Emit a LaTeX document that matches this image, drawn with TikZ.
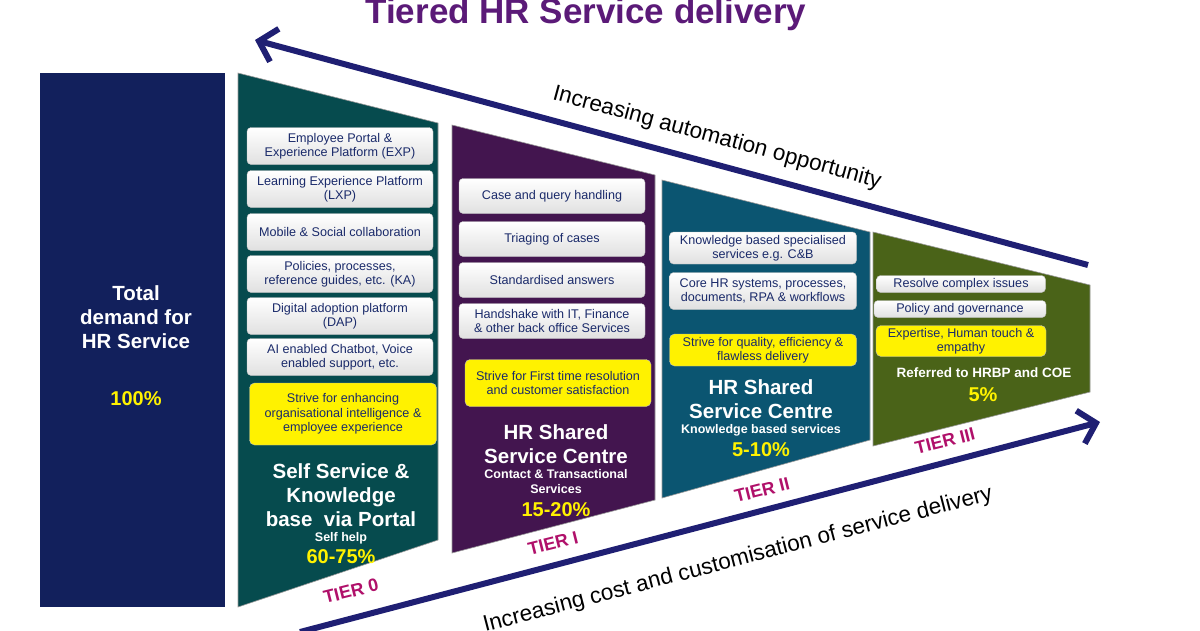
\documentclass[tikz,border=0pt]{standalone}
\usepackage{fontspec}
\setmainfont{Liberation Sans}
\usetikzlibrary{arrows.meta}
\definecolor{navy}{HTML}{12205C}
\definecolor{tzero}{HTML}{064B4E}
\definecolor{tone}{HTML}{43154F}
\definecolor{ttwo}{HTML}{0B5571}
\definecolor{tthree}{HTML}{4A6318}
\definecolor{arr}{HTML}{1F1F73}
\definecolor{ttl}{HTML}{5B1A78}
\definecolor{tier}{HTML}{B0106A}
\definecolor{boxtxt}{HTML}{1A2A6A}
\tikzset{
 panel/.style={draw=black!40, line width=0.6pt},
 wbox/.style={draw=black!25, rounded corners=4pt, top color=white, bottom color=black!12, text=boxtxt, font=\fontsize{12.6}{14.5}\selectfont, align=center, minimum height=#1, inner sep=1pt},
 ybox/.style={draw=black!25, rounded corners=5pt, fill=yellow, text=boxtxt, font=\fontsize{12.6}{14.5}\selectfont, align=center, minimum height=#1, inner sep=1pt},
 big/.style={text=white, font=\bfseries\fontsize{20.5}{24}\selectfont, align=center},
 small/.style={text=white, font=\bfseries\fontsize{12.5}{15}\selectfont, align=center},
 pct/.style={text=yellow, font=\bfseries\fontsize{20}{22}\selectfont},
 tierlbl/.style={text=tier, font=\bfseries\fontsize{18}{20}\selectfont},
 arrlbl/.style={text=black, font=\fontsize{22.5}{24}\selectfont},
 bigarrow/.style={draw=arr, line width=6pt, -{Straight Barb[length=16pt,width=34pt,line width=6pt]}}
}
\begin{document}
\begin{tikzpicture}[x=1pt,y=-1pt]
\useasboundingbox (0,0) rectangle (1200,630);
\fill[white] (0,0) rectangle (1200,630);
\node[text=ttl, font=\bfseries\fontsize{35}{37}\selectfont] (title) at (586,14) {Tiered HR Service delivery};
% arrows
\coordinate (a1s) at (1088,265); \coordinate (a1e) at (255,40);
\coordinate (a2s) at (300,632); \coordinate (a2e) at (1100,422);
\draw[bigarrow] (a1s) -- (a1e);
\draw[bigarrow] (a2s) -- (a2e);
\node[arrlbl, rotate=-15.2] (l1) at (717,138) {Increasing automation opportunity};
\node[arrlbl, rotate=14.6] (l2) at (738,560) {Increasing cost and customisation of service delivery};
% panels
\fill[navy] (40,73) rectangle (225,607);
\filldraw[panel, fill=tzero] (238,73) -- (438,123) -- (438,540) -- (238,607) -- cycle;
\filldraw[panel, fill=tone] (452,125) -- (655,175) -- (655,500) -- (452,553) -- cycle;
\filldraw[panel, fill=ttwo] (662,180) -- (870,232) -- (870,440) -- (662,498) -- cycle;
\filldraw[panel, fill=tthree] (873,232) -- (1090,285) -- (1090,392) -- (873,446) -- cycle;
% total
\node[big] (tot) at (136,317) {Total\\demand for\\HR Service};
\node[pct] (totp) at (136,399) {100\%};
% tier 0
\node[wbox=37pt, minimum width=186pt] (b01) at (340,146) {Employee Portal \&\\Experience Platform (EXP)};
\node[wbox=37pt, minimum width=186pt] (b02) at (340,189) {Learning Experience Platform\\(LXP)};
\node[wbox=37pt, minimum width=186pt] (b03) at (340,232) {Mobile \& Social collaboration};
\node[wbox=37pt, minimum width=186pt] (b04) at (340,274) {Policies, processes,\\reference guides, etc. (KA)};
\node[wbox=37pt, minimum width=186pt] (b05) at (340,316) {Digital adoption platform\\(DAP)};
\node[wbox=37pt, minimum width=186pt] (b06) at (340,357) {AI enabled Chatbot, Voice\\enabled support, etc.};
\node[ybox=62pt, minimum width=187pt] (y0) at (343,414) {Strive for enhancing\\organisational intelligence \&\\employee experience};
\node[big] (t0a) at (341,495) {Self Service \&\\Knowledge\\base\ \ via Portal};
\node[small] (t0b) at (341,538) {Self help};
\node[pct] (t0c) at (341,557) {60-75\%};
\node[tierlbl, rotate=14] (tier0) at (351,591) {TIER 0};
% tier 1
\node[wbox=35pt, minimum width=186pt] (b11) at (552,196) {Case and query handling};
\node[wbox=35pt, minimum width=186pt] (b12) at (552,239) {Triaging of cases};
\node[wbox=35pt, minimum width=186pt] (b13) at (552,280) {Standardised answers};
\node[wbox=35pt, minimum width=186pt] (b14) at (552,321) {Handshake with IT, Finance\\\& other back office Services};
\node[ybox=47pt, minimum width=186pt] (y1) at (558,383) {Strive for First time resolution\\and customer satisfaction};
\node[big] (t1a) at (556,444) {HR Shared\\Service Centre};
\node[small] (t1b) at (556,482) {Contact \& Transactional\\Services};
\node[pct] (t1c) at (556,510) {15-20\%};
\node[tierlbl, rotate=14] (tier1) at (553,543) {TIER I};
% tier 2
\node[wbox=32pt, minimum width=187pt] (b21) at (763,248) {Knowledge based specialised\\services e.g. C\&B};
\node[wbox=37pt, minimum width=187pt] (b22) at (763,291) {Core HR systems, processes,\\documents, RPA \& workflows};
\node[ybox=32pt, minimum width=187pt] (y2) at (763,350) {Strive for quality, efficiency \&\\flawless delivery};
\node[big] (t2a) at (761,399) {HR Shared\\Service Centre};
\node[small] (t2b) at (761,430) {Knowledge based services};
\node[pct] (t2c) at (761,450) {5-10\%};
\node[tierlbl, rotate=14] (tier2) at (762,490) {TIER II};
% tier 3
\node[wbox=17pt, minimum width=169pt] (b31) at (961,284) {Resolve complex issues};
\node[wbox=17pt, minimum width=172pt] (b32) at (960,309) {Policy and governance};
\node[ybox=31pt, minimum width=170pt] (y3) at (961,341) {Expertise, Human touch \&\\empathy};
\node[small, font=\bfseries\fontsize{13.5}{15}\selectfont] (t3a) at (984,373) {Referred to HRBP and COE};
\node[pct] (t3c) at (983,395) {5\%};
\node[tierlbl, rotate=14] (tier3) at (945,441) {TIER III};
\end{tikzpicture}
\end{document}
